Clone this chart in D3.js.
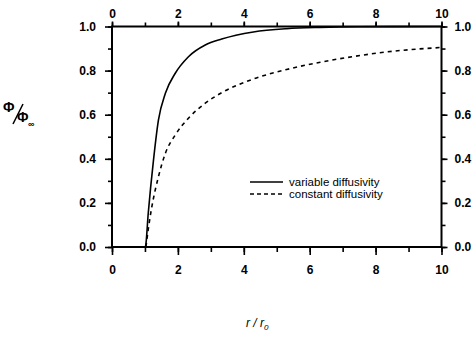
<!DOCTYPE html>
<html><head><meta charset="utf-8">
<script src="https://cdn.jsdelivr.net/npm/d3@7"></script>
<style>body{margin:0;background:#fff}svg{display:block}text{font-family:"Liberation Sans",Arial,sans-serif;fill:#000}</style>
</head><body><svg id="c" width="474" height="345"></svg>
<script>
const xTicks = [0, 2, 4, 6, 8, 10];
const yTicks = [0.0, 0.2, 0.4, 0.6, 0.8, 1.0];
const variableR   = [0, 1.0, 1.02, 1.1, 1.26, 1.41, 1.62, 1.92, 2.32, 2.83, 3.33, 4.29, 5.3, 6.3, 7.5, 10];
const variablePhi = [0, 0,   0.005, 0.153, 0.395, 0.576, 0.697, 0.788, 0.863, 0.916, 0.943, 0.975, 0.99, 0.996, 0.999, 1.0];
const constantR   = [1.03, 1.1, 1.21, 1.41, 1.62, 1.92, 2.32, 2.83, 3.33, 4.29, 5.3, 6.32, 7.33, 8.35, 10];
const constantPhi = [0.0, 0.08, 0.183, 0.319, 0.425, 0.508, 0.584, 0.652, 0.700, 0.762, 0.805, 0.838, 0.864, 0.885, 0.905];
const legendLabels = ["variable diffusivity", "constant diffusivity"];

const svg = d3.select("#c");
const x = d3.scaleLinear().domain([0, 10]).range([112, 441.5]);
const y = d3.scaleLinear().domain([0, 1]).range([247, 26.5]);
const minorX = d3.range(0, 10.01, 1);
const minorY = d3.range(0, 1.001, 0.1);

function styleAxis(g){
  g.select(".domain").remove();
  g.selectAll("line").attr("stroke","#000").attr("stroke-width",1.6);
  g.selectAll("text").attr("font-size",12).attr("font-weight","bold");
}
// minor ticks
svg.append("g").attr("transform",`translate(0,${y(0)})`).call(d3.axisBottom(x).tickValues(minorX).tickSize(5).tickFormat("")).call(styleAxis);
svg.append("g").attr("transform",`translate(0,${y(1)})`).call(d3.axisTop(x).tickValues(minorX).tickSize(4).tickFormat("")).call(styleAxis);
svg.append("g").attr("transform",`translate(${x(0)},0)`).call(d3.axisLeft(y).tickValues(minorY).tickSize(4).tickFormat("")).call(styleAxis);
svg.append("g").attr("transform",`translate(${x(10)},0)`).call(d3.axisRight(y).tickValues(minorY).tickSize(4).tickFormat("")).call(styleAxis);
// major ticks
svg.append("g").attr("transform",`translate(0,${y(0)})`).call(d3.axisBottom(x).tickValues(xTicks).tickSize(8).tickPadding(10).tickFormat(d3.format("d"))).call(styleAxis);
svg.append("g").attr("transform",`translate(0,${y(1)})`).call(d3.axisTop(x).tickValues(xTicks).tickSize(5).tickPadding(4).tickFormat(d3.format("d"))).call(styleAxis);
svg.append("g").attr("transform",`translate(${x(0)},0)`).call(d3.axisLeft(y).tickValues(yTicks).tickSize(7).tickPadding(9).tickFormat(d3.format(".1f"))).call(styleAxis);
svg.append("g").attr("transform",`translate(${x(10)},0)`).call(d3.axisRight(y).tickValues(yTicks).tickSize(6).tickPadding(7).tickFormat(d3.format(".1f"))).call(styleAxis);

// frame
svg.append("rect").attr("x",x(0)).attr("y",y(1)).attr("width",x(10)-x(0)).attr("height",y(0)-y(1))
  .attr("fill","none").attr("stroke","#000").attr("stroke-width",2);

const line = d3.line().x(d=>x(d[0])).y(d=>y(d[1])).curve(d3.curveMonotoneX);
svg.append("path").datum(variableR.map((r,i)=>[r,variablePhi[i]])).attr("d",line)
  .attr("fill","none").attr("stroke","#000").attr("stroke-width",1.6);
svg.append("path").datum(constantR.map((r,i)=>[r,constantPhi[i]])).attr("d",line)
  .attr("fill","none").attr("stroke","#000").attr("stroke-width",1.6).attr("stroke-dasharray","4,4");

// legend
const lg = svg.append("g");
[0,1].forEach(i=>{
  const yy = 182 + i*12;
  lg.append("line").attr("x1",250).attr("x2",283).attr("y1",yy).attr("y2",yy)
    .attr("stroke","#000").attr("stroke-width",1.4).attr("stroke-dasharray", i? "4,3":null);
  lg.append("text").attr("x",289).attr("y",yy+4).attr("font-size",11.5).text(legendLabels[i]);
});

// y label
const yl = svg.append("text").attr("font-size",14).attr("font-weight","bold");
yl.append("tspan").attr("x",3).attr("y",112).text("Φ");
svg.append("line").attr("x1",13).attr("y1",124).attr("x2",23).attr("y2",104).attr("stroke","#000").attr("stroke-width",1.5);
const yl2 = svg.append("text").attr("font-size",14).attr("font-weight","bold");
yl2.append("tspan").attr("x",17).attr("y",122).text("Φ");
yl2.append("tspan").attr("x",28).attr("y",127).attr("font-size",9).text("∞");

// x label
const xl = svg.append("text").attr("x",246).attr("y",327).attr("font-size",12).attr("font-style","italic");
xl.append("tspan").text("r / r");
xl.append("tspan").attr("dy",3).attr("font-size",8).text("0");
</script></body></html>
